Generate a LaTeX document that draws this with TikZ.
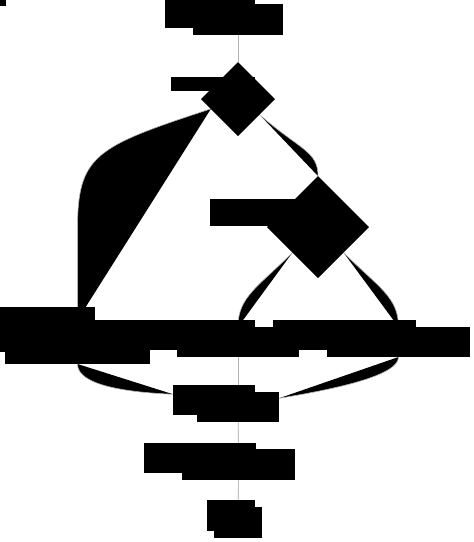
\documentclass[tikz,border=0pt]{standalone}
\usetikzlibrary{shapes.geometric,calc,backgrounds}
\tikzset{
  blk/.style={fill=black, draw=none, inner sep=0pt, outer sep=0pt},
  box/.style={blk, rectangle, minimum height=30pt},
  dec/.style={blk, diamond, aspect=1},
  lag/.style={blk, rectangle, minimum height=30pt, anchor=north east},
  flow/.style={draw=gray!60, line width=0.6pt, fill=black, line join=round}
}
\begin{document}
\begin{tikzpicture}[x=1pt, y=-1pt]
		\useasboundingbox (0,0) rectangle (474,542);
		\fill (0,0) rectangle (6,6);
		% top block
		\node[box, minimum width=90pt, minimum height=31pt] (start) at (238,19.5) {};
		\node[lag, minimum width=90pt, minimum height=31pt] (startl) at ($(start.north)+(17,-7)$) {};
		% decisions
		\node[dec, minimum size=74pt] (d1) at (238,99) {};
		\node[lag, minimum width=84pt, minimum height=14pt] (d1l) at ($(d1.north)+(17,15)$) {};
		\node[dec, minimum size=102pt] (d2) at (318,227) {};
		\node[lag, minimum width=125pt, minimum height=27pt] (d2l) at ($(d2.north)+(17,23)$) {};
		% middle row
		\node[box, minimum width=145pt, minimum height=44pt] (left) at (77.5,342) {};
		\node[lag, minimum width=145pt, minimum height=45pt] (leftl) at ($(left.north)+(17,-13)$) {};
		\node[box, minimum width=122pt] (mid) at (238,342) {};
		\node[lag, minimum width=122pt] (midl) at ($(mid.north)+(17,-7)$) {};
		\node[box, minimum width=143pt] (right) at (398.5,342) {};
		\node[lag, minimum width=143pt] (rightl) at ($(right.north)+(17,-7)$) {};
		% bottom column
		\node[box, minimum width=82pt] (join) at (238,407) {};
		\node[lag, minimum width=82pt] (joinl) at ($(join.north)+(17,-7)$) {};
		\node[box, minimum width=113pt, minimum height=31pt] (sum) at (238.5,464.5) {};
		\node[lag, minimum width=112pt] (suml) at ($(sum.north)+(17,-6)$) {};
		\node[box, minimum width=48pt, minimum height=31pt] (stop) at (238,522.5) {};
		\node[lag, minimum width=48pt, minimum height=31pt] (stopl) at ($(stop.north)+(17,-7)$) {};
		\begin{scope}[on background layer]
		\draw[flow] (start) -- (d1);
		\draw[flow] (d1.-36) .. controls +(40,35) and +(0,-25) .. (d2.north);
		\draw[flow] (d1.200) .. controls +(-116,38) and +(0,-75) .. ($(left.north)+(0,-90)$) -- (left.north);
		\draw[flow] (d2.south west) .. controls +(-35,35) and +(0,-30) .. (mid.north);
		\draw[flow] (d2.south east) .. controls +(35,35) and +(0,-30) .. (right.north);
		\draw[flow] (left.south) .. controls +(0,21) and +(-48,-2) .. (joinl.172);
		\draw[flow] (right.south) .. controls +(0,18) and +(61,-10) .. (join.12);
		\draw[flow] (mid) -- (join);
		\draw[flow] (join) -- (sum);
		\draw[flow] (sum) -- (stop);
		\end{scope}
\end{tikzpicture}
\end{document}
